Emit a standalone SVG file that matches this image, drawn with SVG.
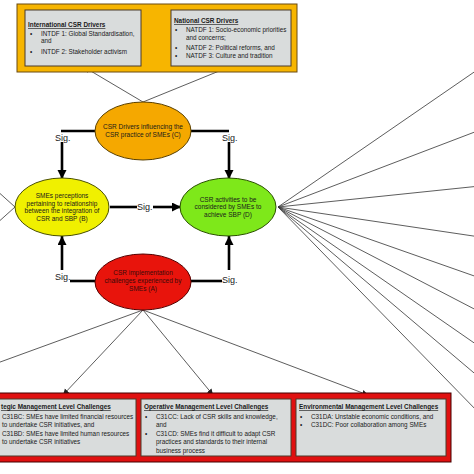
<svg xmlns="http://www.w3.org/2000/svg" width="474" height="474" viewBox="0 0 474 474">
<style>
text{font-family:"Liberation Sans",Arial,sans-serif;fill:#1a1a1a}
.t{font-size:6.35px}
.h{font-size:6.4px;font-weight:bold;text-decoration:underline}
.e{font-size:6.5px;text-anchor:middle}
.s{font-size:9px}
.thin{stroke:#333;stroke-width:0.8;fill:none}
.thick{stroke:#000;stroke-width:2.6;fill:none}
.ibox{fill:#d9dcdc;stroke:#4a3a2a;stroke-width:1}
</style>
<defs>
<marker id="ah" markerUnits="userSpaceOnUse" markerWidth="8" markerHeight="8" refX="6" refY="3" orient="auto">
<path d="M0,0 L6,3 L0,6 z" fill="#222"/>
</marker>
<marker id="ahT" markerUnits="userSpaceOnUse" markerWidth="10" markerHeight="10" refX="9" refY="4.5" orient="auto">
<path d="M0,0 L9,4.5 L0,9 z" fill="#000"/>
</marker>
</defs>
<rect width="474" height="474" fill="#fff"/>

<g id="connectors">
<path class="thin" d="M143,102 L84,67" marker-end="url(#ah)"/>
<path class="thin" d="M143,102 L229,67" marker-end="url(#ah)"/>
<path class="thin" d="M143,310 L63,395" marker-end="url(#ah)"/>
<path class="thin" d="M143,310 L213,395" marker-end="url(#ah)"/>
<path class="thin" d="M143,310 L368,395" marker-end="url(#ah)"/>
<path class="thin" d="M143,310 L-30,373"/>
<path class="thin" d="M15,207 L-5,189"/>
<path class="thin" d="M15,207 L-5,225"/>
<path class="thin" d="M278,207 L480,68"/>
<path class="thin" d="M278,207 L480,130"/>
<path class="thin" d="M278,207 L480,186"/>
<path class="thin" d="M278,207 L480,237"/>
<path class="thin" d="M278,207 L480,278"/>
<path class="thin" d="M278,207 L480,312"/>
<path class="thin" d="M278,207 L480,347"/>
<path class="thin" d="M278,207 L480,378"/>
<path class="thin" d="M278,207 L480,414"/>
<path class="thick" d="M95,131 H61"/>
<path class="thick" d="M62,142 V179" marker-end="url(#ahT)"/>
<path class="thick" d="M191,131 H229"/>
<path class="thick" d="M229,142 V179" marker-end="url(#ahT)"/>
<path class="thick" d="M110,207 H137"/>
<path class="thick" d="M153,207 H181" marker-end="url(#ahT)"/>
<path class="thick" d="M95,281 H70"/>
<path class="thick" d="M62,270 V236" marker-end="url(#ahT)"/>
<path class="thick" d="M191,281 H222"/>
<path class="thick" d="M229,270 V236" marker-end="url(#ahT)"/>
<text class="s" x="55" y="141">Sig.</text>
<text class="s" x="222" y="141">Sig.</text>
<text class="s" x="137" y="210">Sig.</text>
<text class="s" x="55" y="280">Sig.</text>
<text class="s" x="222" y="283">Sig.</text>
</g>

<g id="drivers">
<rect x="17" y="4" width="280" height="68" fill="#f7b500" stroke="#6b4a10" stroke-width="1"/>
<g id="intl">
<rect class="ibox" x="25" y="10" width="116" height="56"/>
<text class="h" x="28" y="27">International CSR Drivers</text>
<text class="t" x="30" y="36">•</text>
<text class="t" x="41" y="36">INTDF 1: Global Standardisation,</text>
<text class="t" x="41" y="43">and</text>
<text class="t" x="30" y="54">•</text>
<text class="t" x="41" y="54">INTDF 2: Stakeholder activism</text>
</g>
<g id="natl">
<rect class="ibox" x="171" y="10" width="120" height="56"/>
<text class="h" x="174" y="23">National CSR Drivers</text>
<text class="t" x="175" y="32">•</text>
<text class="t" x="186" y="32">NATDF 1: Socio-economic priorities</text>
<text class="t" x="186" y="40">and concerns;</text>
<text class="t" x="175" y="50">•</text>
<text class="t" x="186" y="50">NATDF 2: Political reforms, and</text>
<text class="t" x="175" y="58">•</text>
<text class="t" x="186" y="58">NATDF 3: Culture and tradition</text>
</g>
</g>

<g id="nodeC">
<ellipse cx="143" cy="131" rx="48" ry="29" fill="#f5a800" stroke="#5a4000" stroke-width="1"/>
<text class="e" x="143" y="129">CSR Drivers influencing the</text>
<text class="e" x="143" y="137">CSR practice of SMEs (C)</text>
</g>

<g id="nodeB">
<ellipse cx="62" cy="207" rx="47" ry="29" fill="#f0f000" stroke="#4a5000" stroke-width="1"/>
<text class="e" x="62" y="198">SMEs perceptions</text>
<text class="e" x="62" y="205.5">pertaining to relationship</text>
<text class="e" x="62" y="213">between the integration of</text>
<text class="e" x="62" y="220.5">CSR and SBP (B)</text>
</g>

<g id="nodeD">
<ellipse cx="228" cy="207" rx="48" ry="29" fill="#7ee81a" stroke="#2a5000" stroke-width="1"/>
<text class="e" x="228" y="201.5">CSR activities to be</text>
<text class="e" x="228" y="209">considered by SMEs to</text>
<text class="e" x="228" y="216.5">achieve SBP (D)</text>
</g>

<g id="nodeA">
<ellipse cx="143" cy="282" rx="48" ry="28" fill="#e8140c" stroke="#500" stroke-width="1"/>
<text class="e" x="143" y="275" style="fill:#3a0a0a">CSR implementation</text>
<text class="e" x="143" y="283" style="fill:#3a0a0a">challenges experienced by</text>
<text class="e" x="143" y="291" style="fill:#3a0a0a">SMEs (A)</text>
</g>

<g id="challenges">
<rect x="-5" y="393" width="456" height="69" fill="#e01010" stroke="#400" stroke-width="1"/>
<g id="strategic">
<rect class="ibox" x="-5" y="399" width="141" height="57"/>
<text class="h" x="1" y="409">tegic Management Level Challenges</text>
<text class="t" x="2" y="419">C31BC: SMEs have limited financial resources</text>
<text class="t" x="2" y="427">to undertake CSR initiatives, and</text>
<text class="t" x="2" y="436">C31BD: SMEs have limited human resources</text>
<text class="t" x="2" y="444">to undertake CSR initiatives</text>
</g>
<g id="operative">
<rect class="ibox" x="141" y="399" width="150" height="57"/>
<text class="h" x="144" y="409">Operative Management Level Challenges</text>
<text class="t" x="145" y="419">•</text>
<text class="t" x="156" y="419">C31CC: Lack of CSR skills and knowledge,</text>
<text class="t" x="156" y="427">and</text>
<text class="t" x="145" y="436">•</text>
<text class="t" x="156" y="436">C31CD: SMEs find it difficult to adapt CSR</text>
<text class="t" x="156" y="444">practices and standards to their internal</text>
<text class="t" x="156" y="453">business process</text>
</g>
<g id="environmental">
<rect class="ibox" x="296" y="399" width="150" height="57"/>
<text class="h" x="299" y="409">Environmental Management Level Challenges</text>
<text class="t" x="300" y="419">•</text>
<text class="t" x="311" y="419">C31DA: Unstable economic conditions, and</text>
<text class="t" x="300" y="427">•</text>
<text class="t" x="311" y="427">C31DC: Poor collaboration among SMEs</text>
</g>
</g>
</svg>
